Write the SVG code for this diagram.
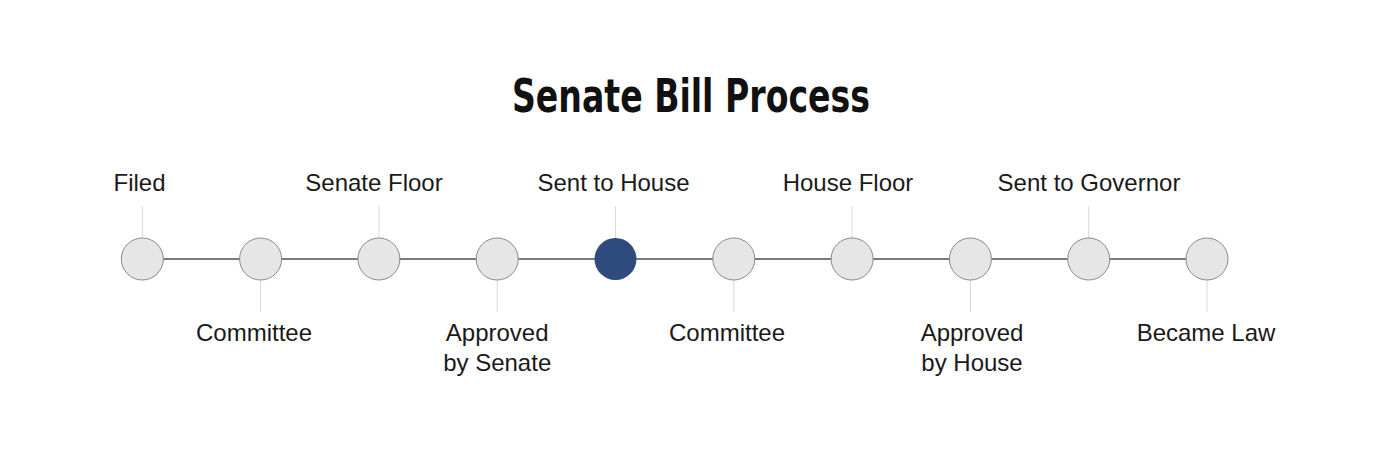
<svg xmlns="http://www.w3.org/2000/svg" width="1388" height="465" viewBox="0 0 1388 465">
  <style>
    .title { font-family: "Liberation Sans Narrow", "DejaVu Sans Condensed", "Liberation Sans", sans-serif; font-weight: bold; font-size: 46px; fill: #111; }
    .lbl { font-family: "Liberation Sans", Arial, sans-serif; font-size: 24px; fill: #1a1a1a; text-anchor: middle; }
    .node { fill: #e6e6e6; stroke: #8a8a8a; stroke-width: 1; }
    .active { fill: #2f4a7c; stroke: none; }
    .tick { stroke: #d9d9d9; stroke-width: 1; }
    .track { stroke: #7a7a7a; stroke-width: 2; }
  </style>
  <rect width="1388" height="465" fill="#ffffff"/>
  <text class="title" x="691" y="112" text-anchor="middle" textLength="358" lengthAdjust="spacingAndGlyphs">Senate Bill Process</text>
  <g id="connectors">
    <line class="track" x1="142.3" y1="259" x2="1207" y2="259"/>
  </g>
  <g id="node-1"><line class="tick" x1="142.3" y1="206" x2="142.3" y2="238"/><circle class="node" cx="142.3" cy="259" r="21"/><text class="lbl" x="139.5" y="191">Filed</text></g>
  <g id="node-2"><line class="tick" x1="260.6" y1="280" x2="260.6" y2="312"/><circle class="node" cx="260.6" cy="259" r="21"/><text class="lbl" x="254" y="341">Committee</text></g>
  <g id="node-3"><line class="tick" x1="378.9" y1="206" x2="378.9" y2="238"/><circle class="node" cx="378.9" cy="259" r="21"/><text class="lbl" x="374" y="191">Senate Floor</text></g>
  <g id="node-4"><line class="tick" x1="497.2" y1="280" x2="497.2" y2="312"/><circle class="node" cx="497.2" cy="259" r="21"/><text class="lbl" x="497.2" y="341">Approved</text><text class="lbl" x="497.2" y="371">by Senate</text></g>
  <g id="node-5"><line class="tick" x1="615.5" y1="206" x2="615.5" y2="238"/><circle class="active" cx="615.5" cy="259" r="21"/><text class="lbl" x="613.5" y="191">Sent to House</text></g>
  <g id="node-6"><line class="tick" x1="733.8" y1="280" x2="733.8" y2="312"/><circle class="node" cx="733.8" cy="259" r="21"/><text class="lbl" x="727" y="341">Committee</text></g>
  <g id="node-7"><line class="tick" x1="852.1" y1="206" x2="852.1" y2="238"/><circle class="node" cx="852.1" cy="259" r="21"/><text class="lbl" x="848" y="191">House Floor</text></g>
  <g id="node-8"><line class="tick" x1="970.4" y1="280" x2="970.4" y2="312"/><circle class="node" cx="970.4" cy="259" r="21"/><text class="lbl" x="972" y="341">Approved</text><text class="lbl" x="972" y="371">by House</text></g>
  <g id="node-9"><line class="tick" x1="1088.7" y1="206" x2="1088.7" y2="238"/><circle class="node" cx="1088.7" cy="259" r="21"/><text class="lbl" x="1089" y="191">Sent to Governor</text></g>
  <g id="node-10"><line class="tick" x1="1207" y1="280" x2="1207" y2="312"/><circle class="node" cx="1207" cy="259" r="21"/><text class="lbl" x="1206" y="341">Became Law</text></g>
</svg>
